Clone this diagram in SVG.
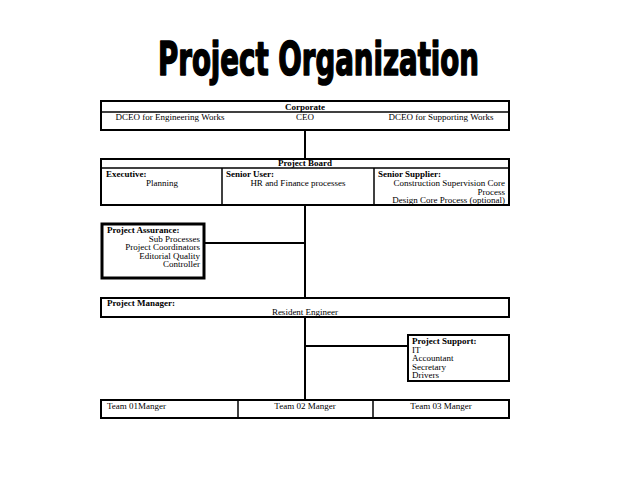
<svg xmlns="http://www.w3.org/2000/svg" width="638" height="478" viewBox="0 0 638 478">
<style>
.box{fill:#fff;stroke:#000;stroke-width:2}
.thin{stroke:#000;stroke-width:1.5;fill:none}
.con{stroke:#000;stroke-width:2;fill:none}
text{font-family:"Liberation Serif","Times New Roman",serif;font-size:9px;fill:#000}
.b{font-weight:bold}
.c{text-anchor:middle}
.r{text-anchor:end}
.title{font-family:"DejaVu Sans Condensed","DejaVu Sans",sans-serif;font-weight:bold;font-size:46px;font-stretch:condensed;stroke:#000;stroke-width:1.6;stroke-linejoin:round}
</style>
<rect width="638" height="478" fill="#fff"/>
<text class="title" x="158" y="75" textLength="321" lengthAdjust="spacingAndGlyphs">Project Organization</text>
<g id="connectors">
<line class="con" x1="305" y1="130" x2="305" y2="159"/>
<line class="con" x1="305" y1="205" x2="305" y2="298"/>
<line class="con" x1="204" y1="243" x2="305" y2="243"/>
<line class="con" x1="305" y1="317" x2="305" y2="400"/>
<line class="con" x1="305" y1="346" x2="408" y2="346"/>
</g>
<g id="corporate">
<rect class="box" x="101" y="101" width="408" height="29"/>
<line class="thin" x1="101" y1="112" x2="509" y2="112"/>
<text class="b c" x="305" y="109.5">Corporate</text>
<text class="c" x="170" y="120">DCEO for Engineering Works</text>
<text class="c" x="305" y="120">CEO</text>
<text class="c" x="441" y="120">DCEO for Supporting Works</text>
</g>
<g id="project-board">
<rect class="box" x="101" y="159" width="408" height="46"/>
<line class="thin" x1="101" y1="168" x2="509" y2="168"/>
<line class="thin" x1="222" y1="168" x2="222" y2="205"/>
<line class="thin" x1="374" y1="168" x2="374" y2="205"/>
<text class="b c" x="305" y="166">Project Board</text>
<text class="b" x="106" y="177">Executive:</text>
<text class="c" x="162" y="186">Planning</text>
<text class="b" x="226" y="177">Senior User:</text>
<text class="c" x="298" y="186">HR and Finance processes</text>
<text class="b" x="378" y="177">Senior Supplier:</text>
<text class="r" x="505" y="186">Construction Supervision Core</text>
<text class="r" x="505" y="194.5">Process</text>
<text class="r" x="505" y="203">Design Core Process (optional)</text>
</g>
<g id="project-assurance">
<rect class="box" x="102" y="224" width="102" height="54" style="stroke-width:3"/>
<text class="b" x="107" y="233">Project Assurance:</text>
<text class="r" x="200" y="241.5">Sub Processes</text>
<text class="r" x="200" y="250">Project Coordinators</text>
<text class="r" x="200" y="258.5">Editorial Quality</text>
<text class="r" x="200" y="267">Controller</text>
</g>
<g id="project-manager">
<rect class="box" x="101" y="298" width="408" height="19"/>
<text class="b" x="107" y="306">Project Manager:</text>
<text class="c" x="305" y="314.5">Resident Engineer</text>
</g>
<g id="project-support">
<rect class="box" x="408" y="335" width="101" height="46"/>
<text class="b" x="412" y="344">Project Support:</text>
<text x="412" y="352.5">IT</text>
<text x="412" y="361">Accountant</text>
<text x="412" y="369.5">Secretary</text>
<text x="412" y="378">Drivers</text>
</g>
<g id="teams">
<rect class="box" x="101" y="400" width="408" height="18"/>
<line class="thin" x1="238" y1="400" x2="238" y2="418"/>
<line class="thin" x1="373" y1="400" x2="373" y2="418"/>
<text x="107" y="408.5">Team 01Manger</text>
<text class="c" x="305" y="408.5">Team 02 Manger</text>
<text class="c" x="441" y="408.5">Team 03 Manger</text>
</g>
</svg>
